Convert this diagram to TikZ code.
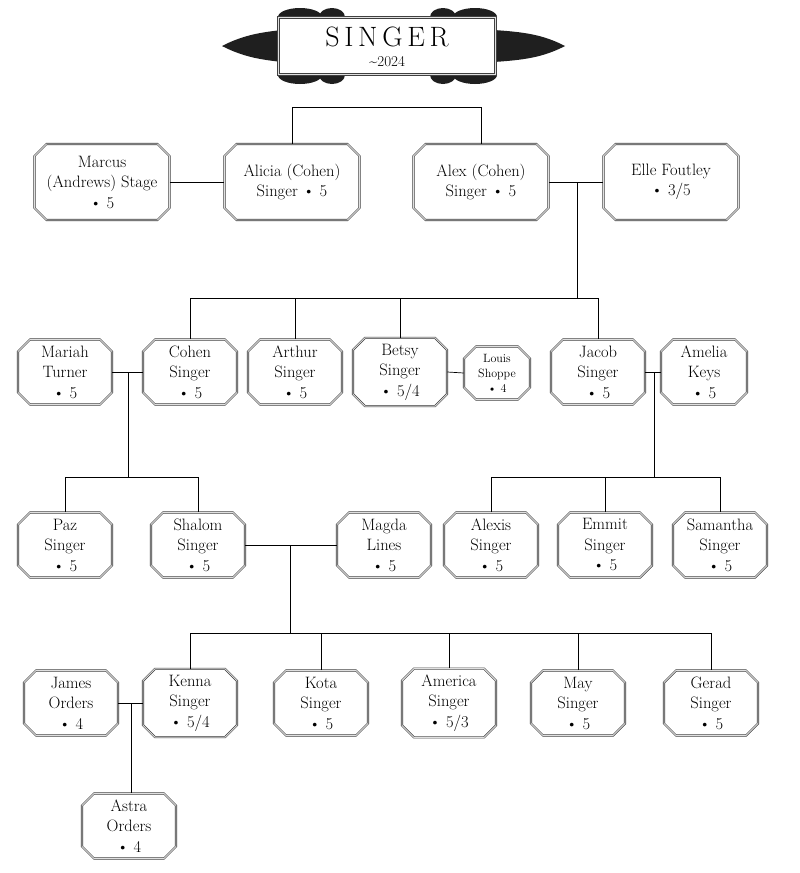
\documentclass[tikz,border=0pt]{standalone}
\usetikzlibrary{shapes.misc}
\begin{document}
\begin{tikzpicture}[x=1pt,y=-1pt,
  person/.style={chamfered rectangle, chamfered rectangle xsep=6pt, chamfered rectangle ysep=6pt,
    draw=black!75, double=black!12, double distance=0.9pt, line width=0.6pt, fill=white,
    minimum width=94pt, minimum height=65pt, inner sep=0pt, align=center,
    font=\fontsize{16.5}{20.5}\selectfont},
  wide/.style={person, minimum width=135pt, minimum height=76pt},
  small/.style={person, minimum width=66pt, minimum height=53pt, font=\fontsize{12}{15}\selectfont},
  link/.style={line width=0.7pt}]
\useasboundingbox (0,0) rectangle (800,873);
% banner
\begin{scope}[fill=black!88]
\fill (222,46) .. controls (245,34) and (265,32) .. (282,30) -- (282,62) .. controls (265,60) and (245,58) .. (222,46) -- cycle;
\fill (565,46) .. controls (542,34) and (522,32) .. (494,30) -- (494,62) .. controls (522,60) and (542,58) .. (565,46) -- cycle;
\foreach \x/\r in {300/22,332/13,443/13,475/22}{
  \fill (\x,17) ellipse ({\r} and 9);
  \fill (\x,75) ellipse ({\r} and 9);
}
\end{scope}
\node[draw=black!75, double=black!12, double distance=0.9pt, line width=0.6pt, fill=white,
  minimum width=217pt, minimum height=57pt, inner sep=0pt] (title) at (387,46) {};
\node[inner sep=0pt, font=\fontsize{28}{30}\selectfont] (tname) at (387,37) {S\,I\,N\,G\,E\,R};
\node[inner sep=0pt, font=\fontsize{15}{16}\selectfont] (tyear) at (387,62) {\textasciitilde 2024};
% row 1
\node[wide] (marcus) at (102,182) {Marcus\\(Andrews) Stage\\\textbullet\ 5};
\node[wide] (alicia) at (292,182) {Alicia (Cohen)\\Singer \textbullet\ 5};
\node[wide] (alex) at (481,182) {Alex (Cohen)\\Singer \textbullet\ 5};
\node[wide] (elle) at (671,182) {Elle Foutley\\\textbullet\ 3/5};
% row 2
\node[person] (mariah) at (65,372) {Mariah\\Turner\\\textbullet\ 5};
\node[person] (cohen) at (190,372) {Cohen\\Singer\\\textbullet\ 5};
\node[person] (arthur) at (295,372) {Arthur\\Singer\\\textbullet\ 5};
\node[person] (betsy) at (400,372) {Betsy\\Singer\\\textbullet\ 5/4};
\node[small] (louis) at (497,373) {Louis\\Shoppe\\\textbullet\ 4};
\node[person] (jacob) at (598,372) {Jacob\\Singer\\\textbullet\ 5};
\node[person, minimum width=86pt] (amelia) at (704,372) {Amelia\\Keys\\\textbullet\ 5};
% row 3
\node[person] (paz) at (65,545) {Paz\\Singer\\\textbullet\ 5};
\node[person] (shalom) at (198,545) {Shalom\\Singer\\\textbullet\ 5};
\node[person] (magda) at (384,545) {Magda\\Lines\\\textbullet\ 5};
\node[person] (alexis) at (491,545) {Alexis\\Singer\\\textbullet\ 5};
\node[person] (emmit) at (605,545) {Emmit\\Singer\\\textbullet\ 5};
\node[person] (samantha) at (720,545) {Samantha\\Singer\\\textbullet\ 5};
% row 4
\node[person] (james) at (71,703) {James\\Orders\\\textbullet\ 4};
\node[person] (kenna) at (190,703) {Kenna\\Singer\\\textbullet\ 5/4};
\node[person] (kota) at (321,703) {Kota\\Singer\\\textbullet\ 5};
\node[person] (america) at (449,703) {America\\Singer\\\textbullet\ 5/3};
\node[person] (may) at (578,703) {May\\Singer\\\textbullet\ 5};
\node[person] (gerad) at (711,703) {Gerad\\Singer\\\textbullet\ 5};
% row 5
\node[person] (astra) at (129,826) {Astra\\Orders\\\textbullet\ 4};
% connectors
\draw[link] (alicia.north) -- ++(0,-36) -| (alex.north);
\draw[link] (marcus.east) -- (alicia.west);
\draw[link] (alex.east) -- (elle.west);
\coordinate (c1) at (577,182);
\coordinate (b1) at (577,298);
\draw[link] (c1) -- (b1);
\draw[link] (cohen.north) |- (jacob.north |- b1) -- (jacob.north);
\draw[link] (arthur.north) -- (arthur.north |- b1);
\draw[link] (betsy.north) -- (betsy.north |- b1);
\draw[link] (betsy.east) -- (louis.west);
\draw[link] (mariah.east) -- (cohen.west);
\draw[link] (jacob.east) -- (amelia.west);
\coordinate (c2) at (128,372);
\coordinate (b2) at (128,477);
\draw[link] (c2) -- (b2);
\draw[link] (paz.north) |- (shalom.north |- b2) -- (shalom.north);
\coordinate (c3) at (654,372);
\coordinate (b3) at (654,477);
\draw[link] (c3) -- (b3);
\draw[link] (alexis.north) |- (samantha.north |- b3) -- (samantha.north);
\draw[link] (emmit.north) -- (emmit.north |- b3);
\draw[link] (shalom.east) -- (magda.west);
\coordinate (c4) at (290,545);
\coordinate (b4) at (290,633);
\draw[link] (c4) -- (b4);
\draw[link] (kenna.north) |- (gerad.north |- b4) -- (gerad.north);
\foreach \n in {kota,america,may}{\draw[link] (\n.north) -- (\n.north |- b4);}
\draw[link] (james.east) -- (kenna.west);
\coordinate (c5) at (131,703);
\draw[link] (c5) -- (c5 |- astra.north);
\end{tikzpicture}
\end{document}
